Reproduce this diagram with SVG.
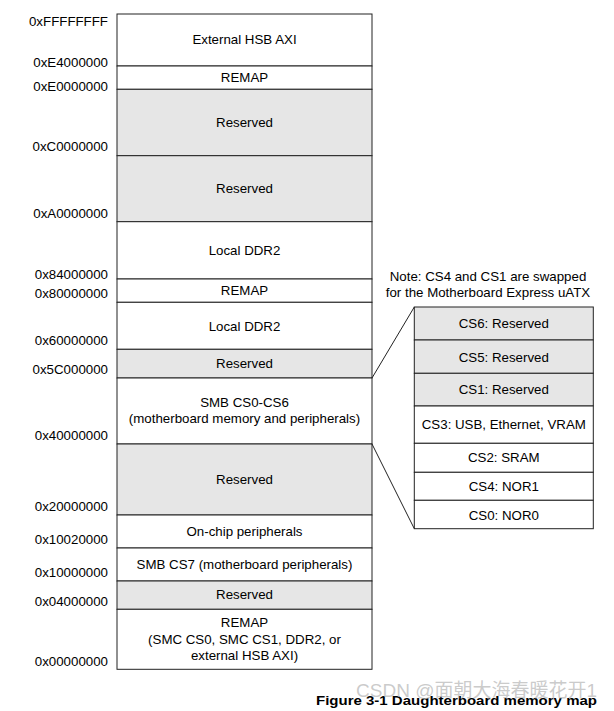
<svg xmlns="http://www.w3.org/2000/svg" width="614" height="711" viewBox="0 0 614 711">
<style>
text{font-family:"Liberation Sans",Arial,sans-serif;font-size:13.3px;fill:#000}
.addr{text-anchor:end}
.c{text-anchor:middle}
.w{fill:#fff;stroke:#222;stroke-width:1}
.g{fill:#e6e6e6;stroke:#222;stroke-width:1}
.cap{font-weight:bold;font-size:13px;text-anchor:start}
.wm{font-family:"Liberation Sans","Noto Sans CJK SC",sans-serif;font-size:19px;fill:#b4b4b4;fill-opacity:0.7;text-anchor:end}
.ln{stroke:#222;stroke-width:1;fill:none}
</style>
<rect width="614" height="711" fill="#fff"/>
<g id="addresses">
<text class="addr" x="108" y="26">0xFFFFFFFF</text>
<text class="addr" x="108" y="67">0xE4000000</text>
<text class="addr" x="108" y="91">0xE0000000</text>
<text class="addr" x="108" y="151">0xC0000000</text>
<text class="addr" x="108" y="218">0xA0000000</text>
<text class="addr" x="108" y="279">0x84000000</text>
<text class="addr" x="108" y="298">0x80000000</text>
<text class="addr" x="108" y="345">0x60000000</text>
<text class="addr" x="108" y="374">0x5C000000</text>
<text class="addr" x="108" y="440">0x40000000</text>
<text class="addr" x="108" y="511">0x20000000</text>
<text class="addr" x="108" y="544">0x10020000</text>
<text class="addr" x="108" y="577">0x10000000</text>
<text class="addr" x="108" y="606">0x04000000</text>
<text class="addr" x="108" y="666">0x00000000</text>
</g>
<g id="ext-hsb-axi"><rect class="w" x="117" y="14" width="255" height="52"/><text class="c" x="244.5" y="44">External HSB AXI</text></g>
<g id="remap-top"><rect class="w" x="117" y="66" width="255" height="23.3"/><text class="c" x="244.5" y="82">REMAP</text></g>
<g id="reserved-c"><rect class="g" x="117" y="89.3" width="255" height="66.4"/><text class="c" x="244.5" y="127">Reserved</text></g>
<g id="reserved-a"><rect class="g" x="117" y="155.7" width="255" height="66"/><text class="c" x="244.5" y="193">Reserved</text></g>
<g id="local-ddr2-hi"><rect class="w" x="117" y="221.7" width="255" height="57.3"/><text class="c" x="244.5" y="255">Local DDR2</text></g>
<g id="remap-mid"><rect class="w" x="117" y="279" width="255" height="23.3"/><text class="c" x="244.5" y="295">REMAP</text></g>
<g id="local-ddr2-lo"><rect class="w" x="117" y="302.3" width="255" height="47"/><text class="c" x="244.5" y="330.5">Local DDR2</text></g>
<g id="reserved-5c"><rect class="g" x="117" y="349.3" width="255" height="28.7"/><text class="c" x="244.5" y="368">Reserved</text></g>
<g id="smb-cs0-cs6"><rect class="w" x="117" y="378" width="255" height="66"/><text class="c" x="244.5" y="407">SMB CS0-CS6</text><text class="c" x="244.5" y="423">(motherboard memory and peripherals)</text></g>
<g id="reserved-20"><rect class="g" x="117" y="444" width="255" height="71"/><text class="c" x="244.5" y="484">Reserved</text></g>
<g id="on-chip"><rect class="w" x="117" y="515" width="255" height="33"/><text class="c" x="244.5" y="536">On-chip peripherals</text></g>
<g id="smb-cs7"><rect class="w" x="117" y="548" width="255" height="33"/><text class="c" x="244.5" y="569">SMB CS7 (motherboard peripherals)</text></g>
<g id="reserved-04"><rect class="g" x="117" y="581" width="255" height="28.3"/><text class="c" x="244.5" y="599">Reserved</text></g>
<g id="remap-bottom"><rect class="w" x="117" y="609.3" width="255" height="60"/><text class="c" x="244.5" y="627">REMAP</text><text class="c" x="244.5" y="644">(SMC CS0, SMC CS1, DDR2, or</text><text class="c" x="244.5" y="660">external HSB AXI)</text></g>
<g id="note"><text class="c" x="488" y="281">Note: CS4 and CS1 are swapped</text><text class="c" x="488" y="297">for the Motherboard Express uATX</text></g>
<g id="cs6"><rect class="g" x="414.3" y="307" width="179" height="33"/><text class="c" x="503.8" y="328">CS6: Reserved</text></g>
<g id="cs5"><rect class="g" x="414.3" y="340" width="179" height="33.3"/><text class="c" x="503.8" y="361.5">CS5: Reserved</text></g>
<g id="cs1"><rect class="g" x="414.3" y="373.3" width="179" height="32.7"/><text class="c" x="503.8" y="394">CS1: Reserved</text></g>
<g id="cs3"><rect class="w" x="414.3" y="406" width="179" height="37.3"/><text class="c" x="503.8" y="429">CS3: USB, Ethernet, VRAM</text></g>
<g id="cs2"><rect class="w" x="414.3" y="443.3" width="179" height="29"/><text class="c" x="503.8" y="462">CS2: SRAM</text></g>
<g id="cs4"><rect class="w" x="414.3" y="472.3" width="179" height="28"/><text class="c" x="503.8" y="491">CS4: NOR1</text></g>
<g id="cs0"><rect class="w" x="414.3" y="500.3" width="179" height="28.4"/><text class="c" x="503.8" y="519.5">CS0: NOR0</text></g>
<g id="connectors">
<line class="ln" x1="372" y1="378" x2="414.3" y2="307"/>
<line class="ln" x1="372" y1="444" x2="414.3" y2="528.7"/>
</g>
<g id="caption"><text class="cap" x="316" y="704.5" textLength="281" lengthAdjust="spacingAndGlyphs">Figure 3-1 Daughterboard memory map</text></g>
<g id="watermark"><text class="wm" x="597" y="697">CSDN @面朝大海春暖花开1</text></g>
</svg>
